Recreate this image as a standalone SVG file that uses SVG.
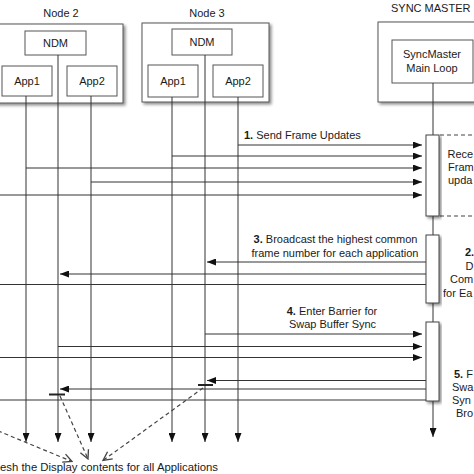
<svg xmlns="http://www.w3.org/2000/svg" width="474" height="474" viewBox="0 0 474 474">
<style>
text{font-family:"Liberation Sans",Arial,Helvetica,sans-serif;font-size:11px;fill:#1a1a1a}
.b{font-weight:bold}
.box{fill:#fff;stroke:#555;stroke-width:1}
.ln{stroke:#333;stroke-width:1;fill:none}
.msg{stroke:#333;stroke-width:1;fill:none}
.ar{marker-end:url(#ah)}
.dash{stroke:#444;stroke-width:1.2;fill:none;stroke-dasharray:4 3}
.dv{marker-end:url(#ov)}
.bar{stroke:#222;stroke-width:2}
.act{fill:#fff;stroke:#444;stroke-width:1}
</style>
<defs>
<filter id="sh" x="-20%" y="-20%" width="140%" height="140%">
<feDropShadow dx="2" dy="2" stdDeviation="1.8" flood-color="#000" flood-opacity="0.45"/>
</filter>
<marker id="ah" viewBox="0 0 9 7" refX="9" refY="3.5" markerWidth="9" markerHeight="7" markerUnits="userSpaceOnUse" orient="auto">
<path d="M0,0 L9,3.5 L0,7 z" fill="#111"/>
</marker>
<marker id="ov" viewBox="0 0 10 10" refX="9" refY="5" markerWidth="11" markerHeight="11" markerUnits="userSpaceOnUse" orient="auto">
<path d="M1,1 L9,5 L1,9" fill="none" stroke="#444" stroke-width="1.2"/>
</marker>
</defs>
<rect width="474" height="474" fill="#fff"/>

<g id="node2">
<text x="61" y="17" text-anchor="middle">Node 2</text>
<rect class="box" x="-8" y="24" width="131" height="79" filter="url(#sh)"/>
<g id="node2-ndm"><rect class="box" x="25" y="31" width="61" height="24"/><text x="55.5" y="47" text-anchor="middle">NDM</text></g>
<g id="node2-app1"><rect class="box" x="2" y="66" width="50" height="30"/><text x="27" y="85" text-anchor="middle">App1</text></g>
<g id="node2-app2"><rect class="box" x="67" y="66" width="50" height="30"/><text x="92" y="85" text-anchor="middle">App2</text></g>
</g>

<g id="node3">
<text x="207" y="17" text-anchor="middle">Node 3</text>
<rect class="box" x="142" y="23" width="127" height="79" filter="url(#sh)"/>
<g id="node3-ndm"><rect class="box" x="172" y="29" width="60" height="26"/><text x="202" y="46" text-anchor="middle">NDM</text></g>
<g id="node3-app1"><rect class="box" x="148" y="65" width="50" height="32"/><text x="173" y="85" text-anchor="middle">App1</text></g>
<g id="node3-app2"><rect class="box" x="213" y="65" width="50" height="32"/><text x="238" y="85" text-anchor="middle">App2</text></g>
</g>

<g id="syncmaster">
<text x="391" y="12">SYNC MASTER</text>
<rect class="box" x="378" y="22" width="110" height="80" filter="url(#sh)"/>
<g id="syncmaster-main"><rect class="box" x="392" y="40" width="81" height="43"/>
<text x="432" y="58" text-anchor="middle">SyncMaster</text>
<text x="432" y="72" text-anchor="middle">Main Loop</text></g>
</g>

<g id="connectors">
<line class="ln ar" x1="26" y1="96" x2="26" y2="442"/>
<line class="ln ar" x1="58" y1="55" x2="58" y2="442"/>
<line class="ln ar" x1="91" y1="96" x2="91" y2="442"/>
<line class="ln ar" x1="172" y1="97" x2="172" y2="442"/>
<line class="ln ar" x1="205" y1="55" x2="205" y2="442"/>
<line class="ln ar" x1="238" y1="97" x2="238" y2="442"/>
<line class="ln" x1="433" y1="83" x2="433" y2="135"/>
<line class="ln" x1="433" y1="216" x2="433" y2="235"/>
<line class="ln" x1="433" y1="303" x2="433" y2="322"/>
<line class="ln ar" x1="433" y1="401" x2="433" y2="437"/>

<line class="msg ar" x1="238" y1="145" x2="422" y2="145"/>
<line class="msg ar" x1="172" y1="156" x2="422" y2="156"/>
<line class="msg ar" x1="26" y1="168" x2="422" y2="168"/>
<line class="msg ar" x1="91" y1="182" x2="422" y2="182"/>
<line class="msg ar" x1="-10" y1="195" x2="422" y2="195"/>

<line class="msg ar" x1="426" y1="262" x2="207" y2="262"/>
<line class="msg ar" x1="426" y1="274" x2="60" y2="274"/>
<line class="msg ar" x1="426" y1="284.5" x2="-20" y2="284.5"/>

<line class="msg ar" x1="205" y1="334" x2="422" y2="334"/>
<line class="msg ar" x1="58" y1="346.5" x2="422" y2="346.5"/>
<line class="msg ar" x1="-10" y1="357.5" x2="422" y2="357.5"/>

<line class="msg ar" x1="426" y1="380.5" x2="207" y2="380.5"/>
<line class="msg ar" x1="426" y1="389" x2="60" y2="389"/>
<line class="msg ar" x1="426" y1="400" x2="-20" y2="400"/>
<line class="bar" x1="198" y1="385" x2="213" y2="385"/>
<line class="bar" x1="49" y1="394.5" x2="65" y2="394.5"/>

<line class="dash dv" x1="-15" y1="425.5" x2="72" y2="461.5"/>
<line class="dash dv" x1="60" y1="396" x2="88" y2="459"/>
<line class="dash dv" x1="203" y1="388" x2="103" y2="460.5"/>

<line class="dash" x1="440" y1="135" x2="474" y2="135"/>
<line class="dash" x1="440" y1="216" x2="474" y2="216"/>
</g>

<g id="activations">
<rect class="act" x="426" y="135" width="13" height="81" filter="url(#sh)"/>
<rect class="act" x="426" y="235" width="13" height="68" filter="url(#sh)"/>
<rect class="act" x="426" y="322" width="13" height="79" filter="url(#sh)"/>
</g>

<g id="labels">
<text x="244" y="139"><tspan class="b">1.</tspan> Send Frame Updates</text>
<text x="335.5" y="243" text-anchor="middle"><tspan class="b">3.</tspan> Broadcast the highest common</text>
<text x="335" y="256.5" text-anchor="middle">frame number for each application</text>
<text x="332" y="315" text-anchor="middle"><tspan class="b">4.</tspan> Enter Barrier for</text>
<text x="332.5" y="328" text-anchor="middle">Swap Buffer Sync</text>
<text x="0" y="471" textLength="218" lengthAdjust="spacingAndGlyphs">esh the Display contents for all Applications</text>

<text x="447.5" y="158">Rece</text>
<text x="448" y="171">Fram</text>
<text x="448" y="184">upda</text>

<text x="465" y="256" class="b">2.</text>
<text x="465.5" y="269.5">D</text>
<text x="450" y="283">Com</text>
<text x="443" y="296.5">for Ea</text>

<text x="454" y="378"><tspan class="b">5.</tspan> F</text>
<text x="452" y="391">Swa</text>
<text x="452" y="404">Syn</text>
<text x="456" y="417">Bro</text>
</g>
</svg>
